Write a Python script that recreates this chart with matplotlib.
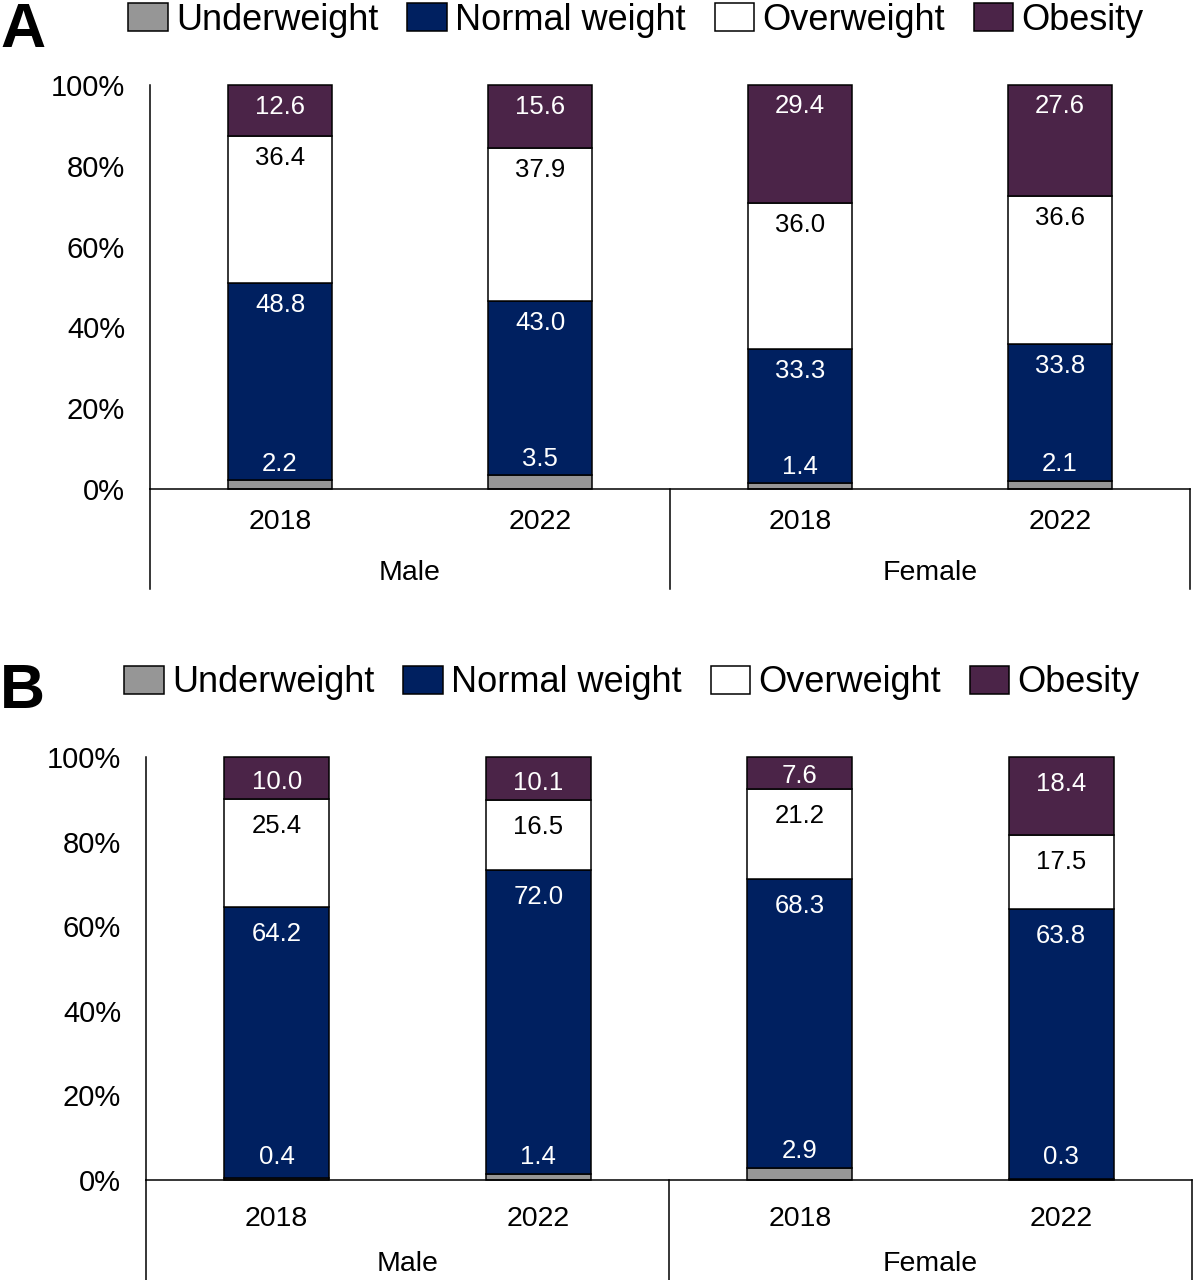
import numpy as np
import matplotlib
matplotlib.use('Agg')
import matplotlib.pyplot as plt
import matplotlib.transforms as mtransforms
from matplotlib.patches import Patch

plt.rcParams['font.family'] = ['Liberation Sans', 'DejaVu Sans']

# categories
years = ['2018', '2022', '2018', '2022']
groups = ['Male', 'Female']
series_names = ['Underweight', 'Normal weight', 'Overweight', 'Obesity']
colors = ['#969696', '#002060', '#ffffff', '#4b2448']
text_colors = ['white', 'white', 'black', 'white']

# panel A values (%)
a_under = [2.2, 3.5, 1.4, 2.1]
a_normal = [48.8, 43.0, 33.3, 33.8]
a_over = [36.4, 37.9, 36.0, 36.6]
a_obes = [12.6, 15.6, 29.4, 27.6]

# panel B values (%)
b_under = [0.4, 1.4, 2.9, 0.3]
b_normal = [64.2, 72.0, 68.3, 63.8]
b_over = [25.4, 16.5, 21.2, 17.5]
b_obes = [10.0, 10.1, 7.6, 18.4]


def draw_panel(fig, rect, data, letter, letter_xy, leg_xy, lab_off, year_y, group_y, depth):
    ax = fig.add_axes(rect)
    x = np.arange(len(years))
    bottom = np.zeros(len(years))
    for i, vals in enumerate(data):
        vals = np.array(vals)
        ax.bar(x, vals, 0.4, bottom=bottom, color=colors[i], edgecolor='black',
               linewidth=1.1, clip_on=False, zorder=2)
        for xi, b, v in zip(x, bottom, vals):
            top = b + v
            if i == 0:
                y = max(v + 4.0, 5.4)
            else:
                y = top - min(lab_off, v * 0.6)
            ax.text(xi, y, f'{v:.1f}', ha='center', va='center', fontsize=18.5,
                    color=text_colors[i], zorder=3)
        bottom = bottom + vals

    ax.set_xlim(-0.5, 3.5)
    ax.set_ylim(0, 100)
    ax.set_yticks(np.arange(0, 101, 20))
    ax.set_yticklabels([f'{t}%' for t in range(0, 101, 20)], fontsize=21)
    ax.tick_params(axis='y', length=0, pad=18)
    ax.set_xticks([])
    for s in ['top', 'right']:
        ax.spines[s].set_visible(False)
    ax.spines['left'].set_linewidth(1.1)
    ax.spines['bottom'].set_linewidth(1.1)

    # category axis boxes below
    trans = mtransforms.blended_transform_factory(ax.transData, ax.transAxes)
    for xv in [-0.5, 1.5, 3.5]:
        ax.plot([xv, xv], [0, -depth], color='black', lw=1.1, transform=trans, clip_on=False)
    for xi, yr in zip(x, years):
        ax.text(xi, year_y, yr, transform=trans, ha='center', va='center', fontsize=20.5)
    for gi, g in enumerate(groups):
        ax.text(0.5 + 2 * gi, group_y, g, transform=trans, ha='center', va='center', fontsize=20.5)

    fig.text(letter_xy[0], letter_xy[1], letter, fontsize=45, fontweight='bold',
             ha='left', va='baseline')
    handles = [Patch(facecolor=c, edgecolor='black', linewidth=1.1) for c in colors]
    fig.legend(handles, series_names, loc='center', bbox_to_anchor=leg_xy, ncol=4,
               frameon=False, fontsize=26, handlelength=1.1, handleheight=0.8,
               handletextpad=0.22, columnspacing=0.8, borderaxespad=0)
    return ax


fig = plt.figure(figsize=(11.94, 12.8), dpi=100)

draw_panel(fig, [150 / 1194, 1 - 489 / 1280, 1040 / 1194, 404 / 1280],
           [a_under, a_normal, a_over, a_obes], 'A', (0.0, 1 - 47 / 1280),
           (636 / 1194, 1 - 20 / 1280), 5.4, -0.082, -0.208, 0.2475)

draw_panel(fig, [146 / 1194, 1 - 1180 / 1280, 1046 / 1194, 423 / 1280],
           [b_under, b_normal, b_over, b_obes], 'B', (0.0, 1 - 708 / 1280),
           (632 / 1194, 1 - 683 / 1280), 6.4, -0.092, -0.199, 0.236)

fig.savefig('out.png', dpi=100)
